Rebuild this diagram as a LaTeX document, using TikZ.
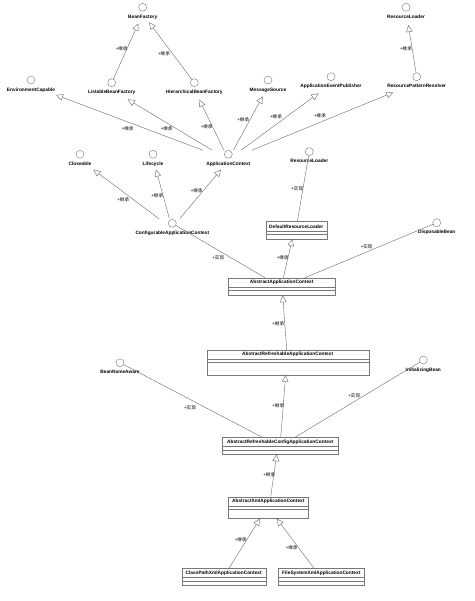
\documentclass[tikz,border=0pt]{standalone}
\usepackage{fontspec}
\setmainfont{Liberation Sans}
\newfontfamily\cjk{Noto Sans CJK SC}
\usepackage{xcolor}
\usetikzlibrary{positioning,arrows.meta}

\definecolor{umlline}{RGB}{105,105,105}
\definecolor{umlbox}{RGB}{120,120,120}

\newcommand{\umlfont}{\bfseries\fontsize{4.8}{5}\selectfont}
% interface: lollipop circle plus its name
\newcommand{\iface}[4]{%
  \node[ifc] (#1c) at (#2,#3) {};
  \node[ifl, below=3pt of #1c] (#1) {#4};
}
% class: name, x, top, width, body height, text
\newcommand{\umlclass}[6]{%
  \node[clsname, minimum width=#4] (#1) at (#2,#3) {#6};
  \node[clspart, minimum width=#4, minimum height=3.3, below=0pt of #1] (#1-a) {};
  \node[clspart, minimum width=#4, minimum height=#5, below=0pt of #1-a] (#1-m) {};
}

\begin{document}
\begin{tikzpicture}[x=1pt, y=-1pt,
  ifc/.style={circle, draw=umlbox, fill=white, minimum size=8pt, inner sep=0pt},
  ifl/.style={font=\umlfont, inner sep=0.3pt, text height=3.5pt, text depth=1pt},
  clsname/.style={draw=umlbox, fill=white, anchor=north, minimum height=9.3, inner sep=0pt, outer sep=0pt, font=\umlfont},
  clspart/.style={draw=umlbox, fill=white, inner sep=0pt, outer sep=0pt},
  inh/.style={draw=umlline, -{Triangle[open, length=7pt, width=6.5pt]}},
  real/.style={draw=umlline},
  elbl/.style={font=\cjk\fontsize{4.6}{5}\selectfont, inner sep=0pt}]
  \useasboundingbox (0,0) rectangle (474,601);

  % interfaces
  \iface{bf}{142.7}{7.3}{BeanFactory}
  \iface{lbf}{111.7}{82.7}{ListableBeanFactory}
  \iface{hbf}{194.3}{82.7}{HierarchicalBeanFactory}
  \iface{ec}{31}{80}{EnvironmentCapable}
  \iface{ms}{268}{80}{MessageSource}
  \iface{aep}{331}{76.7}{ApplicationEventPublisher}
  \iface{rl}{406}{7.3}{ResourceLoader}
  \iface{rpr}{416.7}{76.7}{ResourcePatternResolver}
  \iface{ac}{228.3}{154.3}{ApplicationContext}
  \iface{cl}{80}{154.3}{Closeable}
  \iface{lc}{153}{154.3}{Lifecycle}
  \iface{rlb}{309.3}{151.7}{ResourceLoader}
  \iface{cac}{172.3}{223.3}{ConfigurableApplicationContext}
  \iface{db}{436.7}{222.7}{DisposableBean}
  \iface{bna}{120}{362.7}{BeanNameAware}
  \iface{ib}{423.3}{360}{InitializingBean}

  % classes
  \umlclass{drl}{296.2}{221.7}{61}{4.7}{DefaultResourceLoader}
  \umlclass{aac}{281.7}{277.7}{106.7}{5}{AbstractApplicationContext}
  \umlclass{arac}{287.7}{350}{162}{12.3}{AbstractRefreshableApplicationContext}
  \umlclass{arcac}{280.2}{437.3}{115.7}{4.3}{AbstractRefreshableConfigApplicationContext}
  \umlclass{axac}{268.3}{496.7}{80}{9.3}{AbstractXmlApplicationContext}
  \umlclass{cpxac}{223.7}{568.3}{84}{4.6}{ClassPathXmlApplicationContext}
  \umlclass{fsxac}{321.3}{568.3}{86}{4.6}{FileSystemXmlApplicationContext}

  % connectors
  \draw[inh] (lbfc) -- ([shift={(-4.4,6.3)}]bf.center); %lbf-bf
  \draw[inh] (hbfc) -- ([shift={(6.3,5)}]bf.center); %hbf-bf
  \draw[inh] ([shift={(-25.3,-4)}]acc.center) -- ([shift={(25,5)}]ec.center); %ac-ec
  \draw[inh] ([shift={(-16,-4)}]acc.center) -- ([shift={(16,6.7)}]lbf.center); %ac-lbf
  \draw[inh] ([shift={(-4.3,-4)}]acc.center) -- ([shift={(5,7)}]hbf.center); %ac-hbf
  \draw[inh] ([shift={(5,-4)}]acc.center) -- ([shift={(-5.3,6.4)}]ms.center); %ac-ms
  \draw[inh] ([shift={(12.7,-4)}]acc.center) -- ([shift={(-12.7,6.7)}]aep.center); %ac-aep
  \draw[inh] ([shift={(23.4,-4)}]acc.center) -- ([shift={(-23.4,5.7)}]rpr.center); %ac-rpr
  \draw[inh] (rprc) -- ([shift={(2.3,7.7)}]rl.center); %rpr-rl
  \draw[inh] ([shift={(-13,-4.3)}]cacc.center) -- ([shift={(13.3,5.3)}]cl.center); %cac-cl
  \draw[inh] ([shift={(-3,-5)}]cacc.center) -- ([shift={(3,5.3)}]lc.center); %cac-lc
  \draw[inh] ([shift={(7.7,-5)}]cacc.center) -- ([shift={(-7.3,5.3)}]ac.center); %cac-ac
  \draw[real] ([shift={(-16.7,0)}]aac.north) -- (cacc); %aac-cac
  \draw[inh] ([shift={(1.6,0)}]aac.north) -- ([shift={(-3.9,0)}]drl-m.south); %aac-drl
  \draw[real] ([shift={(1.1,0)}]drl.north) -- (rlbc); %drl-rl
  \draw[real] ([shift={(23.3,0)}]aac.north) -- (dbc); %aac-db
  \draw[inh] ([shift={(-1,0)}]arac.north) -- ([shift={(1,0)}]aac-m.south); %arac-aac
  \draw[inh] ([shift={(0.5,0)}]arcac.north) -- ([shift={(-2,0)}]arac-m.south); %arcac-arac
  \draw[real] ([shift={(-17.9,0)}]arcac.north) -- (bnac); %arcac-bna
  \draw[real] ([shift={(14.8,0)}]arcac.north) -- (ibc); %arcac-ib
  \draw[inh] ([shift={(2.4,0)}]axac.north) -- ([shift={(-3.5,0)}]arcac-m.south); %axac-arcac
  \draw[inh] ([shift={(5.3,0)}]cpxac.north) -- ([shift={(-8.3,0)}]axac-m.south); %cpxac-axac
  \draw[inh] ([shift={(-7.3,0)}]fsxac.north) -- ([shift={(8.4,0)}]axac-m.south); %fsxac-axac

  % connector labels
  \node[elbl] (e1) at (121.7,49) {+继承};
  \node[elbl] (e2) at (164,54) {+继承};
  \node[elbl] (e3) at (127.7,128.3) {+继承};
  \node[elbl] (e4) at (166.7,128.3) {+继承};
  \node[elbl] (e5) at (206.7,126.7) {+继承};
  \node[elbl] (e6) at (243.3,119.3) {+继承};
  \node[elbl] (e7) at (276,116.7) {+继承};
  \node[elbl] (e8) at (320,115.7) {+继承};
  \node[elbl] (e9) at (406,49) {+继承};
  \node[elbl] (e10) at (123.3,199.3) {+继承};
  \node[elbl] (e11) at (157.3,196) {+继承};
  \node[elbl] (e12) at (196.7,190.7) {+继承};
  \node[elbl] (e13) at (218.3,257.7) {+实现};
  \node[elbl] (e14) at (282.7,257.7) {+继承};
  \node[elbl] (e15) at (297.3,188.3) {+实现};
  \node[elbl] (e16) at (366.7,246.7) {+实现};
  \node[elbl] (e17) at (278.3,323.3) {+继承};
  \node[elbl] (e18) at (278.3,406) {+继承};
  \node[elbl] (e19) at (190,407.3) {+实现};
  \node[elbl] (e20) at (354.3,396) {+实现};
  \node[elbl] (e21) at (269.3,474.3) {+继承};
  \node[elbl] (e22) at (240.7,539.3) {+继承};
  \node[elbl] (e23) at (291.7,547.3) {+继承};
\end{tikzpicture}
\end{document}
